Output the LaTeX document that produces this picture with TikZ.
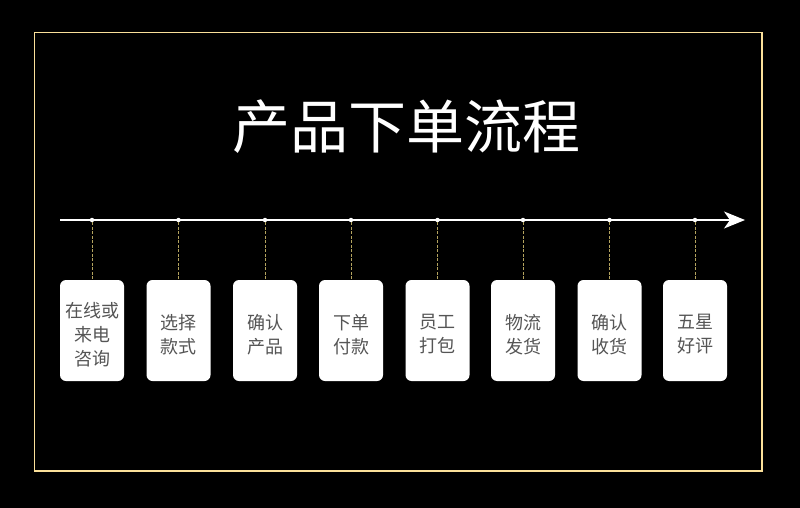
\documentclass[tikz,border=0pt]{standalone}
\usepackage{fontspec}
\usetikzlibrary{arrows.meta}
\newfontfamily\cjk{Noto Sans CJK SC}
\definecolor{framegold}{HTML}{FBE09A}
\definecolor{dashgold}{HTML}{B3A35E}
\definecolor{cardtext}{HTML}{555555}

\newcommand{\stepcard}[3]{%
\node[stepdot] (d#1) at (#2,220) {};
\node[stepbox] (c#1) at (#2,330.5) {};
\node[steptext] (t#1) at ([yshift=-4pt]c#1.center) {#3};
\draw[steplink] (d#1) -- (c#1);
}

\begin{document}
\begin{tikzpicture}[x=1pt,y=-1pt]

\tikzstyle{stepdot}=[circle,fill=white,inner sep=0pt,minimum size=4.5pt]
\tikzstyle{stepbox}=[fill=white,rounded corners=6pt,minimum width=64pt,minimum height=101pt,inner sep=0pt]
\tikzstyle{steptext}=[inner sep=0pt,align=center,text=cardtext,font=\cjk\fontsize{18}{24}\selectfont]
\tikzstyle{steplink}=[dashgold,dash pattern=on 3pt off 1.5pt,line width=0.8pt]

% background and frame
\fill[black] (0,0) rectangle (800,508);
\useasboundingbox (0,0) rectangle (800,508);
\draw[framegold,line width=1.3pt] (34.5,32.5) rectangle (762,471);

% title
\node[text=white,font=\cjk\fontsize{58}{60}\selectfont] (title) at (406,127) {产品下单流程};

% time line
\coordinate (lineStart) at (60,220);
\coordinate (lineEnd) at (745,220);
\draw[white,line width=1.2pt,-{Stealth[length=21pt,width=17pt,inset=6pt]}] (lineStart) -- (lineEnd);

% steps
\stepcard{1}{92}{在线或\\来电\\咨询}
\stepcard{2}{178.5}{选择\\款式}
\stepcard{3}{265}{确认\\产品}
\stepcard{4}{351}{下单\\付款}
\stepcard{5}{437.5}{员工\\打包}
\stepcard{6}{523}{物流\\发货}
\stepcard{7}{609.5}{确认\\收货}
\stepcard{8}{695}{五星\\好评}

\end{tikzpicture}
\end{document}
